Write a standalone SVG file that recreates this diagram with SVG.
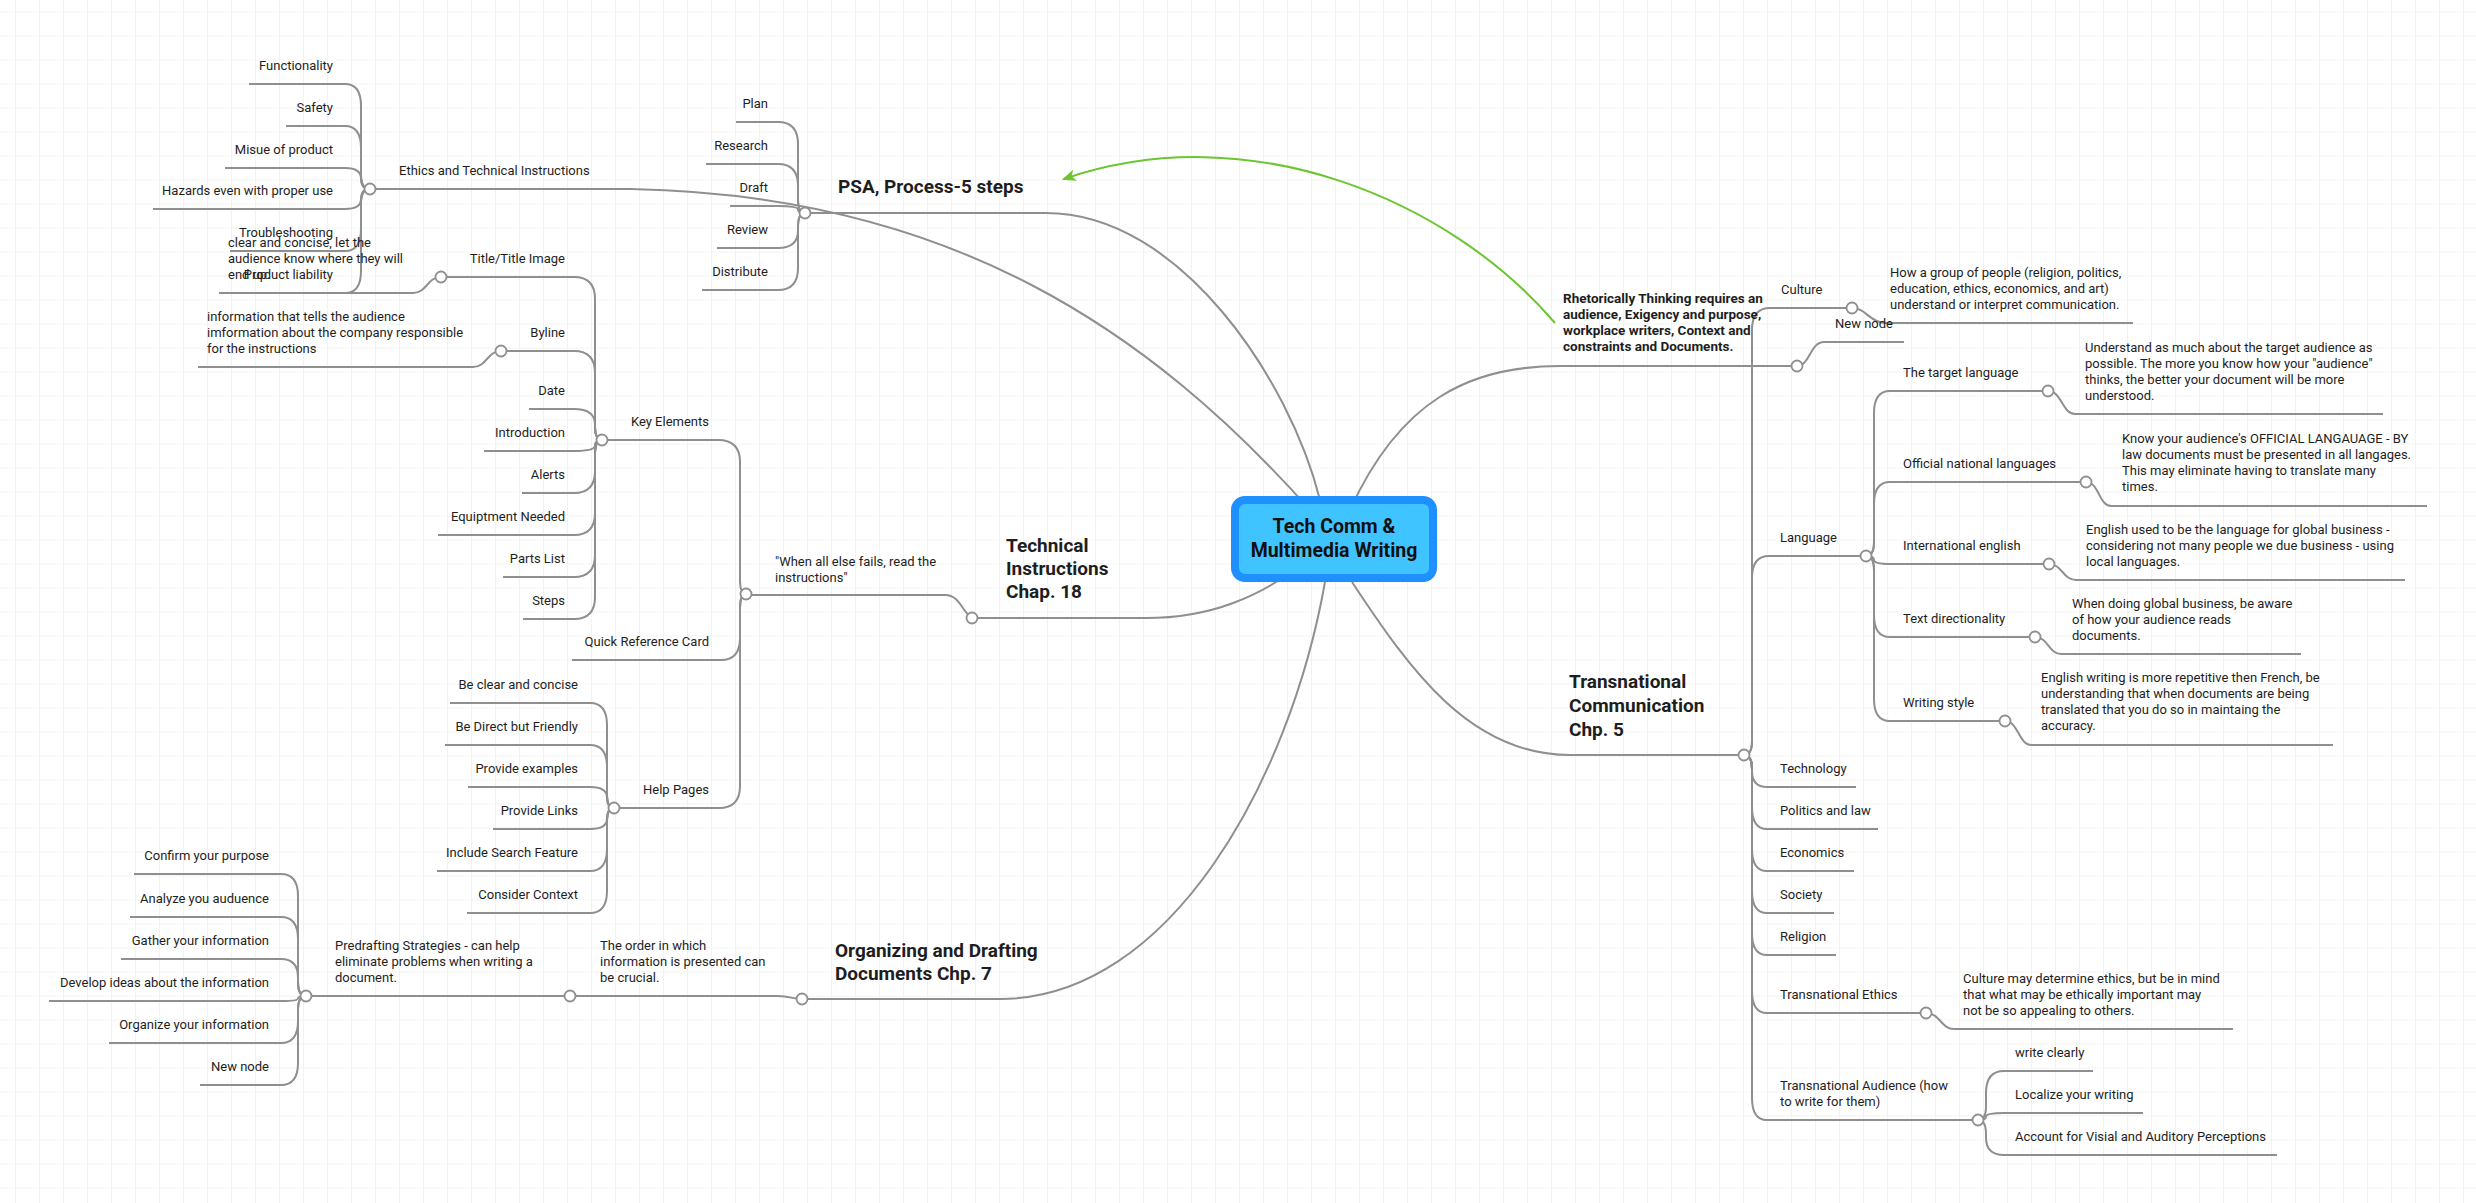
<svg xmlns="http://www.w3.org/2000/svg" width="2476" height="1203" viewBox="0 0 2476 1203">
<defs>
<pattern id="grid" patternUnits="userSpaceOnUse" x="15" y="11.5" width="24" height="24">
<path d="M0 0 H24 M0 0 V24" fill="none" stroke="#e6ecde" stroke-width="1.2"/>
</pattern>
<marker id="garrow" markerUnits="userSpaceOnUse" viewBox="0 0 12 10" refX="10" refY="5" markerWidth="14" markerHeight="12" orient="auto">
<path d="M0,0 L12,5 L0,10 L3,5 z" fill="#6cc531"/>
</marker>
<style>
.c{fill:none;stroke:#8f8f8f;stroke-width:2}
.rel{fill:none;stroke:#6cc531;stroke-width:2}
.dot{fill:#fff;stroke:#8f8f8f;stroke-width:1.8}
text{font-family:Roboto,"Liberation Sans",sans-serif;fill:#1e1e1e}
.t{font-size:13px}
.e{text-anchor:end}
.b{font-size:19px;font-weight:bold}
.rb{font-size:13.5px;font-weight:bold}
.ct{font-size:19.5px;font-weight:bold;text-anchor:middle;fill:#111}
</style>
</defs>
<rect width="2476" height="1203" fill="#ffffff"/>
<rect width="2476" height="1203" fill="url(#grid)"/>

<g id="connectors">
<!-- main branches -->
<path class="c" d="M370 189 L631 189 C950 195 1150 330 1310 510"/>
<path class="c" d="M805 213 L1046 213 C1180 213 1290 380 1320 500"/>
<path class="c" d="M972 618 L1146 618 C1200 618 1260 605 1334 539"/>
<path class="c" d="M802 999 L1000 999 C1170 999 1290 780 1325 582"/>
<path class="c" d="M1350 510 C1400 400 1470 366 1560 366 L1797 366"/>
<path class="c" d="M1352 582 C1410 670 1470 755 1570 755 L1744 755"/>
<!-- Ethics children -->
<path class="c" d="M249 84 L345 84 Q361 84 361 106 L361 175 Q361 189 370 189"/>
<path class="c" d="M286 126 L345 126 Q361 126 361 148 L361 175 Q361 189 370 189"/>
<path class="c" d="M225 168 L345 168 Q361 168 361 178.5 Q361 189 370 189"/>
<path class="c" d="M153 209 L345 209 Q361 209 361 199 Q361 189 370 189"/>
<path class="c" d="M230 251 L345 251 Q361 251 361 229 L361 203 Q361 189 370 189"/>
<path class="c" d="M219 293 L345 293 Q361 293 361 271 L361 203 Q361 189 370 189"/>
<!-- PSA children -->
<path class="c" d="M736 122 L778 122 Q798 122 798 144 L798 199 Q798 213 805 213"/>
<path class="c" d="M706 164 L778 164 Q798 164 798 186 L798 199 Q798 213 805 213"/>
<path class="c" d="M730 206 L778 206 Q798 206 798 209.5 Q798 213 805 213"/>
<path class="c" d="M717 248 L778 248 Q798 248 798 230.5 L798 227 Q798 213 805 213"/>
<path class="c" d="M702 290 L778 290 Q798 290 798 268 L798 227 Q798 213 805 213"/>
<!-- Key Elements children -->
<path class="c" d="M441 277 L574 277 Q595 277 595 299 L595 426 Q595 440 602 440"/>
<path class="c" d="M501 351 L574 351 Q595 351 595 373 L595 426 Q595 440 602 440"/>
<path class="c" d="M529 409 L574 409 Q595 409 595 424.5 L595 426 Q595 440 602 440"/>
<path class="c" d="M484 451 L574 451 Q595 451 595 445.5 Q595 440 602 440"/>
<path class="c" d="M522 493 L574 493 Q595 493 595 471 L595 454 Q595 440 602 440"/>
<path class="c" d="M438 535 L574 535 Q595 535 595 513 L595 454 Q595 440 602 440"/>
<path class="c" d="M503 577 L574 577 Q595 577 595 555 L595 454 Q595 440 602 440"/>
<path class="c" d="M523 619 L574 619 Q595 619 595 597 L595 454 Q595 440 602 440"/>
<path class="c" d="M219 293 L413 293 C427 293 427 277 441 277"/>
<path class="c" d="M198 367 L473 367 C487 367 487 351 501 351"/>
<!-- When all else fails children -->
<path class="c" d="M602 440 L718 440 Q740 440 740 462 L740 580 Q740 594 746 594"/>
<path class="c" d="M572 660 L721 660 Q740 660 740 638 L740 608 Q740 594 746 594"/>
<path class="c" d="M614 808 L719 808 Q740 808 740 786 L740 608 Q740 594 746 594"/>
<path class="c" d="M746 595 L945 595 C960 595 962 612 972 618"/>
<!-- Help Pages children -->
<path class="c" d="M450 703 L590 703 Q607 703 607 725 L607 794 Q607 808 614 808"/>
<path class="c" d="M445 745 L590 745 Q607 745 607 767 L607 794 Q607 808 614 808"/>
<path class="c" d="M468 787 L590 787 Q607 787 607 797.5 Q607 808 614 808"/>
<path class="c" d="M493 829 L590 829 Q607 829 607 818.5 Q607 808 614 808"/>
<path class="c" d="M437 871 L590 871 Q607 871 607 849 L607 822 Q607 808 614 808"/>
<path class="c" d="M467 913 L590 913 Q607 913 607 891 L607 822 Q607 808 614 808"/>
<!-- Predrafting children -->
<path class="c" d="M134 874 L281 874 Q298 874 298 896 L298 982 Q298 996 306 996"/>
<path class="c" d="M130 917 L281 917 Q298 917 298 939 L298 982 Q298 996 306 996"/>
<path class="c" d="M121 959 L281 959 Q298 959 298 977.5 L298 982 Q298 996 306 996"/>
<path class="c" d="M49 1001 L281 1001 Q298 1001 298 998.5 Q298 996 306 996"/>
<path class="c" d="M109 1043 L281 1043 Q298 1043 298 1021 L298 1010 Q298 996 306 996"/>
<path class="c" d="M200 1085 L281 1085 Q298 1085 298 1063 L298 1010 Q298 996 306 996"/>
<path class="c" d="M306 996 L570 996"/>
<path class="c" d="M570 996 L778 996 C790 996 792 999 802 999"/>
<!-- Rhetorically child -->
<path class="c" d="M1797 366 C1810 366 1810 342 1824 342 L1904 342"/>
<!-- Transnational children -->
<path class="c" d="M1744 755 Q1752 755 1752 741 L1752 330 Q1752 308 1770 308 L1852 308"/>
<path class="c" d="M1744 755 Q1752 755 1752 741 L1752 578 Q1752 556 1769 556 L1866 556"/>
<path class="c" d="M1744 755 Q1752 755 1752 769 L1752 771 Q1752 787 1767 787 L1856 787"/>
<path class="c" d="M1744 755 Q1752 755 1752 769 L1752 807 Q1752 829 1767 829 L1878 829"/>
<path class="c" d="M1744 755 Q1752 755 1752 769 L1752 849 Q1752 871 1767 871 L1854 871"/>
<path class="c" d="M1744 755 Q1752 755 1752 769 L1752 891 Q1752 913 1767 913 L1834 913"/>
<path class="c" d="M1744 755 Q1752 755 1752 769 L1752 933 Q1752 955 1767 955 L1836 955"/>
<path class="c" d="M1744 755 Q1752 755 1752 769 L1752 991 Q1752 1013 1767 1013 L1926 1013"/>
<path class="c" d="M1744 755 Q1752 755 1752 769 L1752 1098 Q1752 1120 1767 1120 L1978 1120"/>
<path class="c" d="M1852 308 C1866 308 1870 323 1886 323 L2133 323"/>
<!-- Language children -->
<path class="c" d="M1866 556 Q1874 556 1874 542 L1874 413 Q1874 391 1890 391 L2048 391"/>
<path class="c" d="M1866 556 Q1874 556 1874 542 L1874 504 Q1874 482 1890 482 L2086 482"/>
<path class="c" d="M1866 556 Q1874 556 1874 560 Q1874 564 1890 564 L2049 564"/>
<path class="c" d="M1866 556 Q1874 556 1874 570 L1874 615 Q1874 637 1890 637 L2035 637"/>
<path class="c" d="M1866 556 Q1874 556 1874 570 L1874 699 Q1874 721 1890 721 L2005 721"/>
<path class="c" d="M2048 391 C2062 391 2062 414 2075 414 L2383 414"/>
<path class="c" d="M2086 482 C2099 482 2099 506 2111 506 L2427 506"/>
<path class="c" d="M2049 564 C2062 564 2063 580 2076 580 L2405 580"/>
<path class="c" d="M2035 637 C2048 637 2049 654 2061 654 L2301 654"/>
<path class="c" d="M2005 721 C2018 721 2019 745 2031 745 L2333 745"/>
<path class="c" d="M1926 1013 C1940 1013 1941 1029 1954 1029 L2233 1029"/>
<!-- Transnational Audience children -->
<path class="c" d="M1978 1120 Q1986 1120 1986 1106 L1986 1093 Q1986 1071 2004 1071 L2093 1071"/>
<path class="c" d="M1978 1120 Q1986 1120 1986 1116.5 Q1986 1113 2004 1113 L2143 1113"/>
<path class="c" d="M1978 1120 Q1986 1120 1986 1134 L1986 1137.5 Q1986 1155 2004 1155 L2277 1155"/>
<!-- relationship -->
<path class="rel" d="M1555 323 C1450 200 1250 115 1064 179" marker-end="url(#garrow)"/>
</g>

<g id="central">
<rect x="1235" y="500" width="198" height="78" rx="10" fill="#40c4ff" stroke="#1e90ff" stroke-width="8"/>
<text class="ct" x="1334" y="533">Tech Comm &amp;</text>
<text class="ct" x="1334" y="557">Multimedia Writing</text>
</g>

<g id="psa"><circle class="dot" cx="805" cy="213" r="5.5"/><text class="b" x="838" y="193">PSA, Process-5 steps</text></g>
<g id="plan"><text class="t e" x="768" y="108">Plan</text></g>
<g id="research"><text class="t e" x="768" y="150">Research</text></g>
<g id="draft"><text class="t e" x="768" y="192">Draft</text></g>
<g id="review"><text class="t e" x="768" y="234">Review</text></g>
<g id="distribute"><text class="t e" x="768" y="276">Distribute</text></g>

<g id="ethics"><circle class="dot" cx="370" cy="189" r="5.5"/><text class="t" x="399" y="175">Ethics and Technical Instructions</text></g>
<g id="functionality"><text class="t e" x="333" y="70">Functionality</text></g>
<g id="safety"><text class="t e" x="333" y="112">Safety</text></g>
<g id="misue"><text class="t e" x="333" y="154">Misue of product</text></g>
<g id="hazards"><text class="t e" x="333" y="195">Hazards even with proper use</text></g>
<g id="troubleshooting"><text class="t e" x="333" y="237">Troubleshooting</text></g>
<g id="liability"><text class="t e" x="333" y="279">Product liability</text></g>

<g id="technical"><circle class="dot" cx="972" cy="618" r="5.5"/><text class="b" x="1006" y="552">Technical</text><text class="b" x="1006" y="575">Instructions</text><text class="b" x="1006" y="598">Chap. 18</text></g>
<g id="whenfails"><circle class="dot" cx="746" cy="594" r="5.5"/><text class="t" x="775" y="566">"When all else fails, read the</text><text class="t" x="775" y="582">instructions"</text></g>
<g id="keyelements"><circle class="dot" cx="602" cy="440" r="5.5"/><text class="t e" x="709" y="426">Key Elements</text></g>
<g id="title"><circle class="dot" cx="441" cy="277" r="5.5"/><text class="t e" x="565" y="263">Title/Title Image</text></g>
<g id="title-note"><text class="t" x="228" y="247">clear and concise, let the</text><text class="t" x="228" y="263">audience know where they will</text><text class="t" x="228" y="279">end up.</text></g>
<g id="byline"><circle class="dot" cx="501" cy="351" r="5.5"/><text class="t e" x="565" y="337">Byline</text></g>
<g id="byline-note"><text class="t" x="207" y="321">information that tells the audience</text><text class="t" x="207" y="337">imformation about the company responsible</text><text class="t" x="207" y="353">for the instructions</text></g>
<g id="date"><text class="t e" x="565" y="395">Date</text></g>
<g id="introduction"><text class="t e" x="565" y="437">Introduction</text></g>
<g id="alerts"><text class="t e" x="565" y="479">Alerts</text></g>
<g id="equipment"><text class="t e" x="565" y="521">Equiptment Needed</text></g>
<g id="parts"><text class="t e" x="565" y="563">Parts List</text></g>
<g id="steps"><text class="t e" x="565" y="605">Steps</text></g>
<g id="quickref"><text class="t e" x="709" y="646">Quick Reference Card</text></g>
<g id="helppages"><circle class="dot" cx="614" cy="808" r="5.5"/><text class="t e" x="709" y="794">Help Pages</text></g>
<g id="h1"><text class="t e" x="578" y="689">Be clear and concise</text></g>
<g id="h2"><text class="t e" x="578" y="731">Be Direct but Friendly</text></g>
<g id="h3"><text class="t e" x="578" y="773">Provide examples</text></g>
<g id="h4"><text class="t e" x="578" y="815">Provide Links</text></g>
<g id="h5"><text class="t e" x="578" y="857">Include Search Feature</text></g>
<g id="h6"><text class="t e" x="578" y="899">Consider Context</text></g>

<g id="organizing"><circle class="dot" cx="802" cy="999" r="5.5"/><text class="b" x="835" y="957">Organizing and Drafting</text><text class="b" x="835" y="980">Documents Chp. 7</text></g>
<g id="order"><circle class="dot" cx="570" cy="996" r="5.5"/><text class="t" x="600" y="950">The order in which</text><text class="t" x="600" y="966">information is presented can</text><text class="t" x="600" y="982">be crucial.</text></g>
<g id="predrafting"><circle class="dot" cx="306" cy="996" r="5.5"/><text class="t" x="335" y="950">Predrafting Strategies - can help</text><text class="t" x="335" y="966">eliminate problems when writing a</text><text class="t" x="335" y="982">document.</text></g>
<g id="p1"><text class="t e" x="269" y="860">Confirm your purpose</text></g>
<g id="p2"><text class="t e" x="269" y="903">Analyze you auduence</text></g>
<g id="p3"><text class="t e" x="269" y="945">Gather your information</text></g>
<g id="p4"><text class="t e" x="269" y="987">Develop ideas about the information</text></g>
<g id="p5"><text class="t e" x="269" y="1029">Organize your information</text></g>
<g id="p6"><text class="t e" x="269" y="1071">New node</text></g>

<g id="rhetorical"><circle class="dot" cx="1797" cy="366" r="5.5"/><text class="rb" x="1563" y="303">Rhetorically Thinking requires an</text><text class="rb" x="1563" y="319">audience, Exigency and purpose,</text><text class="rb" x="1563" y="335">workplace writers, Context and</text><text class="rb" x="1563" y="351">constraints and Documents.</text></g>
<g id="newnode-r"><text class="t" x="1835" y="328">New node</text></g>

<g id="transnational"><circle class="dot" cx="1744" cy="755" r="5.5"/><text class="b" x="1569" y="688">Transnational</text><text class="b" x="1569" y="712">Communication</text><text class="b" x="1569" y="736">Chp. 5</text></g>
<g id="culture"><circle class="dot" cx="1852" cy="308" r="5.5"/><text class="t" x="1781" y="294">Culture</text></g>
<g id="culture-note"><text class="t" x="1890" y="277">How a group of people (religion, politics,</text><text class="t" x="1890" y="293">education, ethics, economics, and art)</text><text class="t" x="1890" y="309">understand or interpret communication.</text></g>
<g id="language"><circle class="dot" cx="1866" cy="556" r="5.5"/><text class="t" x="1780" y="542">Language</text></g>
<g id="target"><circle class="dot" cx="2048" cy="391" r="5.5"/><text class="t" x="1903" y="377">The target language</text></g>
<g id="target-note"><text class="t" x="2085" y="352">Understand as much about the target audience as</text><text class="t" x="2085" y="368">possible. The more you know how your "audience"</text><text class="t" x="2085" y="384">thinks, the better your document will be more</text><text class="t" x="2085" y="400">understood.</text></g>
<g id="official"><circle class="dot" cx="2086" cy="482" r="5.5"/><text class="t" x="1903" y="468">Official national languages</text></g>
<g id="official-note"><text class="t" x="2122" y="443">Know your audience's OFFICIAL LANGAUAGE - BY</text><text class="t" x="2122" y="459">law documents must be presented in all langages.</text><text class="t" x="2122" y="475">This may eliminate having to translate many</text><text class="t" x="2122" y="491">times.</text></g>
<g id="intl"><circle class="dot" cx="2049" cy="564" r="5.5"/><text class="t" x="1903" y="550">International english</text></g>
<g id="intl-note"><text class="t" x="2086" y="534">English used to be the language for global business -</text><text class="t" x="2086" y="550">considering not many people we due business - using</text><text class="t" x="2086" y="566">local languages.</text></g>
<g id="textdir"><circle class="dot" cx="2035" cy="637" r="5.5"/><text class="t" x="1903" y="623">Text directionality</text></g>
<g id="textdir-note"><text class="t" x="2072" y="608">When doing global business, be aware</text><text class="t" x="2072" y="624">of how your audience reads</text><text class="t" x="2072" y="640">documents.</text></g>
<g id="writing"><circle class="dot" cx="2005" cy="721" r="5.5"/><text class="t" x="1903" y="707">Writing style</text></g>
<g id="writing-note"><text class="t" x="2041" y="682">English writing is more repetitive then French, be</text><text class="t" x="2041" y="698">understanding that when documents are being</text><text class="t" x="2041" y="714">translated that you do so in maintaing the</text><text class="t" x="2041" y="730">accuracy.</text></g>
<g id="technology"><text class="t" x="1780" y="773">Technology</text></g>
<g id="politics"><text class="t" x="1780" y="815">Politics and law</text></g>
<g id="economics"><text class="t" x="1780" y="857">Economics</text></g>
<g id="society"><text class="t" x="1780" y="899">Society</text></g>
<g id="religion"><text class="t" x="1780" y="941">Religion</text></g>
<g id="tethics"><circle class="dot" cx="1926" cy="1013" r="5.5"/><text class="t" x="1780" y="999">Transnational Ethics</text></g>
<g id="tethics-note"><text class="t" x="1963" y="983">Culture may determine ethics, but be in mind</text><text class="t" x="1963" y="999">that what may be ethically important may</text><text class="t" x="1963" y="1015">not be so appealing to others.</text></g>
<g id="taudience"><circle class="dot" cx="1978" cy="1120" r="5.5"/><text class="t" x="1780" y="1090">Transnational Audience (how</text><text class="t" x="1780" y="1106">to write for them)</text></g>
<g id="a1"><text class="t" x="2015" y="1057">write clearly</text></g>
<g id="a2"><text class="t" x="2015" y="1099">Localize your writing</text></g>
<g id="a3"><text class="t" x="2015" y="1141">Account for Visial and Auditory Perceptions</text></g>
</svg>
